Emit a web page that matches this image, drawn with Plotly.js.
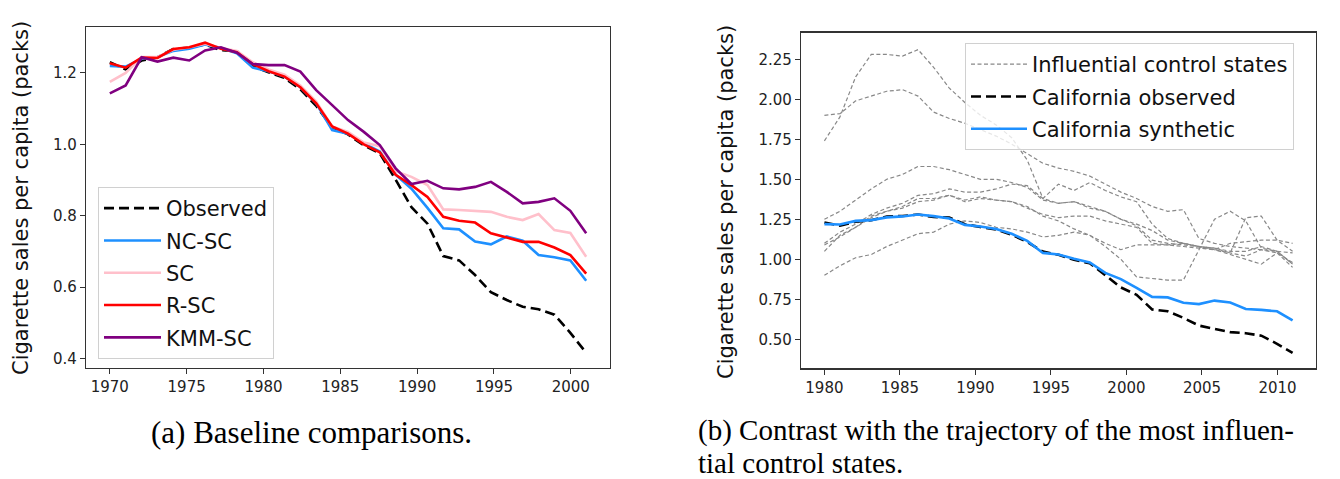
<!DOCTYPE html>
<html>
<head>
<meta charset="utf-8">
<script src="https://cdn.plot.ly/plotly-3.0.1.min.js"></script>
<style>
html,body{margin:0;padding:0;background:#fff;}
#chart{width:1340px;height:479px;}
</style>
</head>
<body>
<div id="chart"></div>
<script>
// x positions of the 31 observations (left panel) and (right panel)
const yearsA = [1970.00,1971.03,1972.07,1973.10,1974.13,1975.17,1976.20,1977.23,1978.27,1979.30,1980.33,1981.37,1982.40,1983.43,1984.47,1985.50,1986.53,1987.57,1988.60,1989.63,1990.67,1991.70,1992.73,1993.77,1994.80,1995.83,1996.87,1997.90,1998.93,1999.97,2001.00];
const yearsB = [1980.00,1981.03,1982.07,1983.10,1984.13,1985.17,1986.20,1987.23,1988.27,1989.30,1990.33,1991.37,1992.40,1993.43,1994.47,1995.50,1996.53,1997.57,1998.60,1999.63,2000.67,2001.70,2002.73,2003.77,2004.80,2005.83,2006.87,2007.90,2008.93,2009.97,2011.00];

const observed = [1.230,1.210,1.235,1.244,1.267,1.271,1.280,1.264,1.261,1.219,1.202,1.186,1.154,1.108,1.048,1.028,0.997,0.975,0.901,0.824,0.778,0.687,0.675,0.634,0.586,0.564,0.545,0.538,0.523,0.472,0.416];
const ncsc = [1.220,1.218,1.240,1.245,1.262,1.268,1.280,1.270,1.255,1.215,1.205,1.190,1.160,1.115,1.040,1.030,1.003,0.980,0.915,0.876,0.822,0.765,0.762,0.728,0.720,0.742,0.730,0.690,0.684,0.675,0.618];
const sc = [1.175,1.200,1.245,1.245,1.265,1.272,1.282,1.270,1.262,1.230,1.210,1.195,1.165,1.120,1.050,1.035,1.005,0.995,0.925,0.909,0.886,0.818,0.816,0.814,0.811,0.797,0.788,0.805,0.760,0.752,0.685];
const rsc = [1.227,1.215,1.243,1.242,1.267,1.272,1.285,1.268,1.258,1.225,1.205,1.190,1.160,1.115,1.050,1.030,1.000,0.978,0.915,0.886,0.853,0.797,0.786,0.781,0.751,0.739,0.727,0.727,0.711,0.690,0.638];
const kmmsc = [1.143,1.165,1.244,1.232,1.243,1.235,1.263,1.272,1.257,1.225,1.222,1.222,1.204,1.152,1.110,1.068,1.035,0.998,0.933,0.889,0.898,0.877,0.874,0.881,0.895,0.867,0.835,0.839,0.849,0.814,0.751];

const control1 = [1.74,1.89,2.14,2.28,2.28,2.27,2.31,2.20,2.07,1.98,1.90,1.84,1.76,1.62,1.38,1.47,1.43,1.48,1.43,1.39,1.36,1.22,1.13,1.10,1.08,1.07,1.04,1.26,1.27,1.12,1.05];
const control2 = [1.90,1.91,1.99,2.02,2.05,2.06,2.02,1.92,1.88,1.85,1.81,1.77,1.72,1.66,1.60,1.57,1.55,1.52,1.47,1.42,1.38,1.33,1.30,1.31,1.13,1.10,1.08,1.07,1.06,1.05,1.04];
const control3 = [1.25,1.30,1.37,1.44,1.50,1.53,1.58,1.58,1.56,1.53,1.50,1.50,1.48,1.45,1.37,1.35,1.36,1.33,1.30,1.25,1.22,1.18,1.12,1.10,1.08,1.06,1.04,1.02,1.06,1.04,0.98];
const control4 = [1.10,1.17,1.22,1.28,1.32,1.35,1.40,1.41,1.44,1.42,1.42,1.44,1.47,1.46,1.38,1.35,1.36,1.32,1.30,1.25,1.21,1.12,1.10,1.09,1.08,1.07,1.05,1.05,1.08,1.05,0.97];
const control5 = [1.05,1.15,1.20,1.27,1.30,1.33,1.38,1.38,1.40,1.37,1.39,1.37,1.36,1.32,1.28,1.26,1.27,1.27,1.24,1.22,1.20,1.10,1.09,1.10,1.08,1.06,1.03,1.00,0.97,1.04,0.95];
const control6 = [0.90,0.96,1.01,1.03,1.08,1.12,1.16,1.17,1.22,1.24,1.23,1.20,1.19,1.17,1.14,1.15,1.17,1.15,1.10,1.06,1.09,1.09,1.09,1.08,1.07,1.06,1.10,1.11,1.12,1.12,1.10];
const control7 = [1.09,1.14,1.20,1.26,1.30,1.32,1.36,1.37,1.40,1.36,1.38,1.37,1.36,1.33,1.27,1.24,1.19,1.15,1.08,1.00,0.89,0.88,0.87,0.87,1.06,1.25,1.30,1.24,1.07,1.05,0.97];
const controls = [control1, control2, control3, control4, control5, control6, control7];

const xTicksA = [1970,1975,1980,1985,1990,1995,2000];
const xTicksB = [1980,1985,1990,1995,2000,2005,2010];
const yTicksA = [0.4,0.6,0.8,1.0,1.2];
const yTicksB = [0.50,0.75,1.00,1.25,1.50,1.75,2.00,2.25];

const yTitle = 'Cigarette sales per capita (packs)';
const captionA = '(a) Baseline comparisons.';
const captionB1 = '(b) Contrast with the trajectory of the most influen-';
const captionB2 = 'tial control states.';

const W = 1340, H = 479;
const px = v => v / W;
const py = v => 1 - v / H;

const traces = [];
function line(x, y, name, color, width, dash, xa, ya, legend, show, group) {
  traces.push({x: x, y: y, type: 'scatter', mode: 'lines', name: name,
    line: {color: color, width: width, dash: dash}, legendgroup: group,
    xaxis: xa, yaxis: ya, legend: legend, showlegend: show, hoverinfo: 'skip'});
}
// left panel
line(yearsA, observed, 'Observed', '#000000', 2.6, '10px,5px', 'x', 'y', 'legend', true, 'a1');
line(yearsA, ncsc, 'NC-SC', '#1e90ff', 2.6, 'solid', 'x', 'y', 'legend', true, 'a2');
line(yearsA, sc, 'SC', '#ffc0cb', 2.6, 'solid', 'x', 'y', 'legend', true, 'a3');
line(yearsA, rsc, 'R-SC', '#ff0000', 2.6, 'solid', 'x', 'y', 'legend', true, 'a4');
line(yearsA, kmmsc, 'KMM-SC', '#800080', 2.6, 'solid', 'x', 'y', 'legend', true, 'a5');
// right panel
controls.forEach((c, i) => line(yearsB, c, 'Influential control states', '#888888', 1.2, '4px,2.5px', 'x2', 'y2', 'legend2', i === 0, 'b1'));
line(yearsB, observed, 'California observed', '#000000', 2.6, '10px,5px', 'x2', 'y2', 'legend2', true, 'b2');
line(yearsB, ncsc, 'California synthetic', '#1e90ff', 2.6, 'solid', 'x2', 'y2', 'legend2', true, 'b3');

const tickFont = {family: 'DejaVu Sans', size: 15, color: '#222'};
function xaxis(domain, range, ticks, anchor) {
  return {domain: domain, range: range, tickvals: ticks, ticktext: ticks.map(String),
    showgrid: false, zeroline: false, showline: true, mirror: true, linecolor: '#333', linewidth: 1.2,
    ticks: 'outside', ticklen: 5, tickcolor: '#333', tickwidth: 1, tickfont: tickFont, anchor: anchor, fixedrange: true};
}
function yaxis(domain, range, ticks, digits, anchor) {
  return {domain: domain, range: range, tickvals: ticks, ticktext: ticks.map(v => v.toFixed(digits)),
    showgrid: false, zeroline: false, showline: true, mirror: true, linecolor: '#333', linewidth: 1.2,
    ticks: 'outside', ticklen: 5, tickcolor: '#333', tickwidth: 1, tickfont: tickFont, anchor: anchor, fixedrange: true};
}

const legendFont = {family: 'DejaVu Sans', size: 21, color: '#111'};
const layout = {
  width: W, height: H,
  margin: {l: 0, r: 0, t: 0, b: 0},
  paper_bgcolor: '#fff', plot_bgcolor: '#fff',
  xaxis: xaxis([px(86), px(610)], [1968.45, 2002.55], xTicksA, 'y'),
  yaxis: yaxis([py(367.5), py(27.3)], [0.375, 1.328], yTicksA, 1, 'x'),
  xaxis2: xaxis([px(801), px(1316)], [1978.45, 2012.55], xTicksB, 'y2'),
  yaxis2: yaxis([py(368.3), py(32.7)], [0.319, 2.416], yTicksB, 2, 'x2'),
  legend: {x: px(98), y: py(187), xanchor: 'left', yanchor: 'top', font: legendFont,
    bgcolor: 'rgba(255,255,255,0.8)', bordercolor: '#d0d0d0', borderwidth: 1,
    traceorder: 'grouped', tracegroupgap: 2, itemwidth: 57},
  legend2: {x: px(965), y: py(43), xanchor: 'left', yanchor: 'top', font: legendFont,
    bgcolor: 'rgba(255,255,255,0.8)', bordercolor: '#d0d0d0', borderwidth: 1,
    traceorder: 'grouped', tracegroupgap: 2, itemwidth: 56},
  annotations: [
    {text: yTitle, textangle: -90, x: px(21), y: py(198), xref: 'paper', yref: 'paper', showarrow: false,
      font: {family: 'DejaVu Sans', size: 21, color: '#111'}, xanchor: 'center', yanchor: 'middle'},
    {text: yTitle, textangle: -90, x: px(726), y: py(202), xref: 'paper', yref: 'paper', showarrow: false,
      font: {family: 'DejaVu Sans', size: 21, color: '#111'}, xanchor: 'center', yanchor: 'middle'},
    {text: captionA, x: px(311), y: py(432), xref: 'paper', yref: 'paper', showarrow: false,
      font: {family: 'Liberation Serif', size: 31, color: '#000'}, borderpad: 0, xanchor: 'center', yanchor: 'middle'},
    {text: captionB1, x: px(697), y: py(430), xref: 'paper', yref: 'paper', showarrow: false,
      font: {family: 'Liberation Serif', size: 29, color: '#000'}, borderpad: 0, xanchor: 'left', yanchor: 'middle'},
    {text: captionB2, x: px(697), y: py(462.5), xref: 'paper', yref: 'paper', showarrow: false,
      font: {family: 'Liberation Serif', size: 29, color: '#000'}, borderpad: 0, xanchor: 'left', yanchor: 'middle'}
  ]
};

Plotly.newPlot('chart', traces, layout, {displayModeBar: false, staticPlot: true});
</script>
</body>
</html>
